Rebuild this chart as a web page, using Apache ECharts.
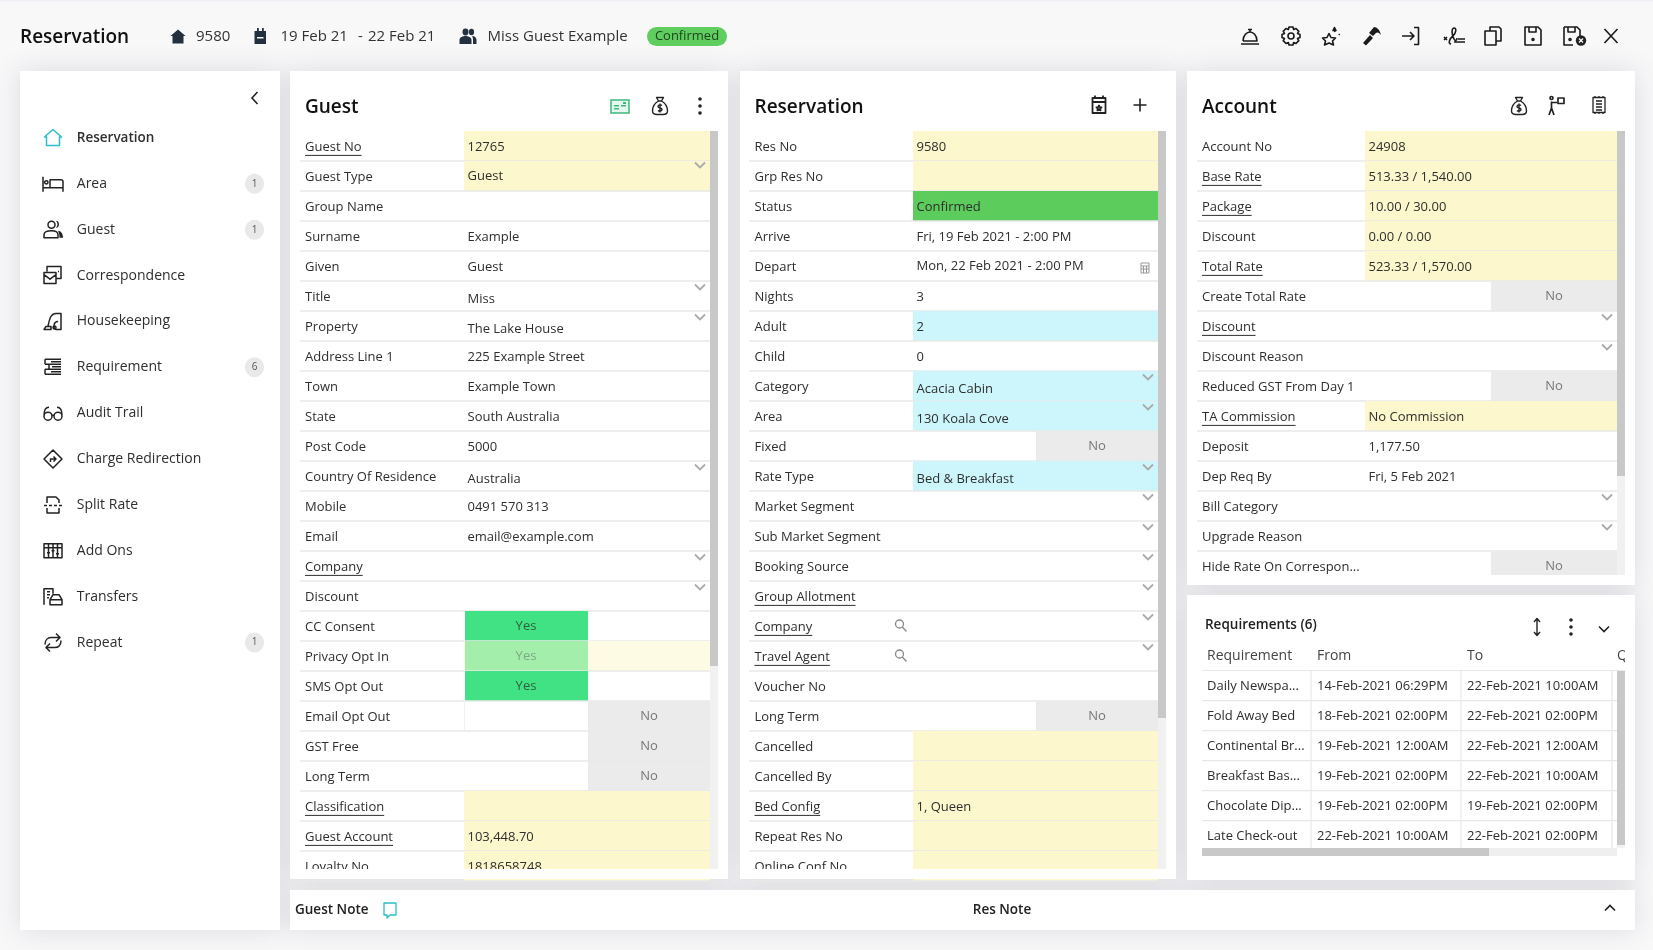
<!DOCTYPE html>
<html lang="en">
<head>
<meta charset="UTF-8">
<title>Reservation</title>
<style>
  html, body, #main { width: 1653px; height: 950px; margin: 0; padding: 0; overflow: hidden; background: #f8f8f9; }
</style>
<script src="https://cdn.jsdelivr.net/npm/echarts@6/dist/echarts.min.js"></script>
</head>
<body>
<div id="main"></div>
<script>
// header
var headerResNo = '9580';
var headerFrom = '19 Feb 21';
var headerTo = '22 Feb 21';
var headerGuest = 'Miss Guest Example';
var headerStatus = 'Confirmed';

// side menu
var menuNames = ['Reservation', 'Area', 'Guest', 'Correspondence', 'Housekeeping', 'Requirement', 'Audit Trail', 'Charge Redirection', 'Split Rate', 'Add Ons', 'Transfers', 'Repeat'];
var menuCounts = [0, 1, 1, 0, 0, 6, 0, 0, 0, 0, 0, 1];
var menuIcons = ['home', 'bed', 'people', 'mail', 'vacuum', 'list', 'glasses', 'diamond', 'split', 'grid', 'transfer', 'repeat'];

// guest panel
var guestLabels = ['Guest No', 'Guest Type', 'Group Name', 'Surname', 'Given', 'Title', 'Property', 'Address Line 1', 'Town', 'State', 'Post Code', 'Country Of Residence', 'Mobile', 'Email', 'Company', 'Discount', 'CC Consent', 'Privacy Opt In', 'SMS Opt Out', 'Email Opt Out', 'GST Free', 'Long Term', 'Classification', 'Guest Account', 'Loyalty No'];
var guestValues = ['12765', 'Guest', '', 'Example', 'Guest', 'Miss', 'The Lake House', '225 Example Street', 'Example Town', 'South Australia', '5000', 'Australia', '0491 570 313', 'email@example.com', '', '', 'Yes', 'Yes', 'Yes', 'No', 'No', 'No', '', '103,448.70', '1818658748'];
var guestLinks = ['Guest No', 'Company', 'Classification', 'Guest Account'];
var guestRequired = ['Guest No', 'Guest Type', 'Classification', 'Guest Account', 'Loyalty No'];
var guestSelects = ['Guest Type', 'Title', 'Property', 'Country Of Residence', 'Company', 'Discount'];

// reservation panel
var resLabels = ['Res No', 'Grp Res No', 'Status', 'Arrive', 'Depart', 'Nights', 'Adult', 'Child', 'Category', 'Area', 'Fixed', 'Rate Type', 'Market Segment', 'Sub Market Segment', 'Booking Source', 'Group Allotment', 'Company', 'Travel Agent', 'Voucher No', 'Long Term', 'Cancelled', 'Cancelled By', 'Bed Config', 'Repeat Res No', 'Online Conf No'];
var resValues = ['9580', '', 'Confirmed', 'Fri, 19 Feb 2021 - 2:00 PM', 'Mon, 22 Feb 2021 - 2:00 PM', '3', '2', '0', 'Acacia Cabin', '130 Koala Cove', 'No', 'Bed & Breakfast', '', '', '', '', '', '', '', 'No', '', '', '1, Queen', '', ''];
var resLinks = ['Group Allotment', 'Company', 'Travel Agent', 'Bed Config'];
var resRequired = ['Res No', 'Grp Res No', 'Cancelled', 'Cancelled By', 'Bed Config', 'Repeat Res No', 'Online Conf No'];
var resEdited = ['Adult', 'Category', 'Area', 'Rate Type'];
var resSelects = ['Category', 'Area', 'Rate Type', 'Market Segment', 'Sub Market Segment', 'Booking Source', 'Group Allotment', 'Company', 'Travel Agent'];

// account panel
var accLabels = ['Account No', 'Base Rate', 'Package', 'Discount', 'Total Rate', 'Create Total Rate', 'Discount ', 'Discount Reason', 'Reduced GST From Day 1', 'TA Commission', 'Deposit', 'Dep Req By', 'Bill Category', 'Upgrade Reason', 'Hide Rate On Correspon...'];
var accValues = ['24908', '513.33 / 1,540.00', '10.00 / 30.00', '0.00 / 0.00', '523.33 / 1,570.00', 'No', '', '', 'No', 'No Commission', '1,177.50', 'Fri, 5 Feb 2021', '', '', 'No'];
var accLinks = ['Base Rate', 'Package', 'Total Rate', 'Discount ', 'TA Commission'];
var accRequired = ['Account No', 'Base Rate', 'Package', 'Discount', 'Total Rate', 'TA Commission'];
var accSelects = ['Discount ', 'Discount Reason', 'Bill Category', 'Upgrade Reason'];

// requirements table
var reqTitle = 'Requirements (6)';
var reqColumns = ['Requirement', 'From', 'To', 'Q'];
var reqNames = ['Daily Newspa...', 'Fold Away Bed', 'Continental Br...', 'Breakfast Bas...', 'Chocolate Dip...', 'Late Check-out'];
var reqFrom = ['14-Feb-2021 06:29PM', '18-Feb-2021 02:00PM', '19-Feb-2021 12:00AM', '19-Feb-2021 02:00PM', '19-Feb-2021 02:00PM', '22-Feb-2021 10:00AM'];
var reqTo = ['22-Feb-2021 10:00AM', '22-Feb-2021 02:00PM', '22-Feb-2021 12:00AM', '22-Feb-2021 10:00AM', '19-Feb-2021 02:00PM', '22-Feb-2021 02:00PM'];

var FONT = '"Open Sans"';
var INK = '#2e2e2e';
var els = [];

// icons are drawn round 0,0 in a box of about 20px
var icons = {
    home: { d: 'M0 -8.5 L8.5 -1 L6.5 -1 L6.5 7.5 L-6.5 7.5 L-6.5 -1 L-8.5 -1 Z' },
    homeSolid: { fill: true, d: 'M0 -7.5 L7.5 -1 L5.5 -1 L5.5 6.5 L-5.5 6.5 L-5.5 -1 L-7.5 -1 Z' },
    peopleSolid: { fill: true, d: 'M0.5 -5 A3 3.4 0 1 1 -5.5 -5 A3 3.4 0 1 1 0.5 -5 Z M6.1 -5 A2.6 3.2 0 1 1 0.9 -5 A2.6 3.2 0 1 1 6.1 -5 Z M-8.5 7 L-8.5 3 C-8.5 0 -5 -1 -2.5 -1 C0 -1 3.5 0 3.5 3 L3.5 7 Z M5 7 L5 2.5 C5 1 4.5 0 4 -1 C7 -1 8.5 1 8.5 3 L8.5 7 Z' },
    bell: { d: 'M-9 8 L9 8 M-7 5 C-7 -1 -3 -4 0 -4 C3 -4 7 -1 7 5 L-7 5 M-2 -6.5 L2 -6.5 M0 -6.5 L0 -4' },
    gear: { d: 'M-2 -9 L2 -9 L2.6 -6.5 L5 -7.5 L7.8 -4.6 L6.5 -2.6 L9 -1.5 L9 1.5 L6.5 2.6 L7.8 4.6 L5 7.5 L2.6 6.5 L2 9 L-2 9 L-2.6 6.5 L-5 7.5 L-7.8 4.6 L-6.5 2.6 L-9 1.5 L-9 -1.5 L-6.5 -2.6 L-7.8 -4.6 L-5 -7.5 L-2.6 -6.5 Z M3 0 A3 3 0 1 1 -3 0 A3 3 0 1 1 3 0 Z' },
    stars: { d: 'M-2 -2.5 L0 1.5 L4.5 2 L1.5 5 L2.5 9 L-2 7 L-6.5 9 L-5.5 5 L-8.5 2 L-4 1.5 Z M3 -7 L4 -4 M3.5 -8.5 L2 -5.5 L5 -5.5 Z M8 -2 L8.5 -1 M8.5 -2 L8 -1' },
    hammer: { fill: true, d: 'M-9 7 L-2 -1 L1 2 L-6 9.5 Z M-3 -3 L2 -9 C5 -9 8 -6 9 -1 C7 -4 5 -4 4 -3 L1 0 Z' },
    login: { d: 'M-9 0 L3 0 M-1 -4 L3 0 L-1 4 M3 -8.5 L7.5 -8.5 L7.5 8.5 L3 8.5' },
    scribble: { d: 'M-11 1 L-8 4 M-8 1 L-11 4 M-4 8 C-7 8 -6 3 -2 0 C1 -3 2 -8 -1 -8 C-4 -8 -3 0 -1 3 C0 5 2 5 2 2 M3 3 L10 3 M-1 6 L10 6' },
    copy: { d: 'M-3 -5 L-3 -9 L6 -9 L8 -7 L8 5 L3 5 M-8 -5 L3 -5 L3 9 L-8 9 Z' },
    save: { d: 'M-8 -9 L5 -9 L8 -6 L8 9 L-8 9 Z M-4 -9 L-4 -4 L3 -4 L3 -9 M1 3.5 A1 1 0 1 1 -1 3.5 A1 1 0 1 1 1 3.5 Z' },
    saveX: { d: 'M-8 -9 L5 -9 L8 -6 L8 0 M1 9 L-8 9 L-8 -9 M-4 -9 L-4 -4 L3 -4 L3 -9 M-1 3.5 A1 1 0 1 1 -3 3.5 A1 1 0 1 1 -1 3.5 Z' },
    close: { d: 'M-6.5 -7 L6.5 7 M6.5 -7 L-6.5 7' },
    bag: { d: 'M-3.5 -8.5 L3.5 -8.5 L1.5 -5 C6 -2.5 7.5 2 7.5 5 C7.5 7.5 5.5 8.5 3 8.5 L-3 8.5 C-5.5 8.5 -7.5 7.5 -7.5 5 C-7.5 2 -6 -2.5 -1.5 -5 Z M-1.5 -5 L1.5 -5 M2 -0.5 C1 -1.5 -2 -1.5 -2 0.5 C-2 2.5 2 1.5 2 3.5 C2 5.5 -1 5.5 -2 4.5 M0 -2.5 L0 6.5' },
    plus: { d: 'M-6.5 0 L6.5 0 M0 -6.5 L0 6.5' },
    calStar: { d: 'M-6.5 -7 L6.5 -7 L6.5 8 L-6.5 8 Z M-4 -9.5 L-4 -6 M4 -9.5 L4 -6 M-6.5 -3 L6.5 -3 M0 0.5 L0.8 2.2 L2.6 2.4 L1.2 3.6 L1.6 5.4 L0 4.4 L-1.6 5.4 L-1.2 3.6 L-2.6 2.4 L-0.8 2.2 Z' },
    flagman: { d: 'M-4 -8 A1.5 1.5 0 1 1 -7 -8 A1.5 1.5 0 1 1 -4 -8 Z M-5.5 -4.5 L-5.5 2 M-5.5 2 L-8 9 M-5.5 2 L-3 9 M-5.5 -3.5 L0 -3.5 M1 -8 L7 -8 L7 -2.5 L1 -2.5 Z' },
    receipt: { d: 'M-6 -7.5 L6 -7.5 L6 7.5 L-6 7.5 Z M-3 -4 L3 -4 M-3 -1 L3 -1 M-3 2 L3 2 M-3 5 L3 5 M-4 -9 L-4 -8 M0 -9 L0 -8 M4 -9 L4 -8 M-4 8 L-4 9 M0 8 L0 9 M4 8 L4 9' },
    bed: { d: 'M-10 -7 L-10 8 M-10 4 L10 4 L10 8 M10 4 L10 -2 C10 -4 8 -4 8 -4 L-3 -4 L-3 4 M-5 -1.5 A1.7 1.7 0 1 1 -8.4 -1.5 A1.7 1.7 0 1 1 -5 -1.5 Z' },
    people: { d: 'M2 -5 A3.5 3.5 0 1 1 -5 -5 A3.5 3.5 0 1 1 2 -5 Z M-9 8 L-9 5 C-9 2 -5 1 -1.5 1 C2 1 5 2 5 5 L5 8 Z' },
    peopleFill: { fill: true, d: 'M3 -9 C7 -9 7 -2 3 -2 C5 -4 5 -7 3 -9 Z M5 1 C8 1 10 4 10 8 L6.5 8 C6.5 5 6 3 5 1 Z' },
    mail: { d: 'M-6 -4 L-6 -9 L8 -9 L8 3 L3 3 M-9 -3 L3 -3 L3 8 L-9 8 Z M-9 -1 L-3 3.5 L3 -1 M5 -4 L6 -4' },
    vacuum: { d: 'M-9 8 L-2 8 L-2 5 L-7 5 Z M-5 5 C-4 0 -3 -8 3 -8 L8 -8 L8 8 L3 8 C0 8 0 0 5 0 M3 6 A1.5 1.5 0 1 1 0 6 A1.5 1.5 0 1 1 3 6 Z' },
    list: { d: 'M-8 -8 L8 -8 M-8 -3 L8 -3 M-8 2 L8 2 M-8 7 L8 7 M-8 -8 L-8 -3 M-4 -3 L-4 2 M-8 2 L-8 7 M-2 -5.5 L8 -5.5 M-1 -0.5 L8 -0.5 M-2 4.5 L8 4.5' },
    glasses: { d: 'M-1 3 A4 4 0 1 1 -9 3 A4 4 0 1 1 -1 3 Z M9 3 A4 4 0 1 1 1 3 A4 4 0 1 1 9 3 Z M-1 2 L1 2 M-9 2 C-9 -3 -7 -6 -4 -6 M9 2 C9 -3 7 -6 4 -6' },
    diamond: { d: 'M0 -9 L9 0 L0 9 L-9 0 Z M-2.5 3 L-2.5 0 L2.5 0 M0.5 -2.5 L3 0 L0.5 2.5' },
    split: { d: 'M-6 -2 L-6 -8 L3 -8 L6 -5 L6 -2 M-6 3 L-6 8 L6 8 L6 3 M-9 0.5 L-6 0.5 M-4 0.5 L-1 0.5 M1 0.5 L4 0.5 M6 0.5 L9 0.5' },
    grid: { d: 'M-9 -7 L9 -7 L9 7 L-9 7 Z M-4.5 -7 L-4.5 7 M0 -7 L0 7 M4.5 -7 L4.5 7 M-9 -3 L9 -3 M-6 2 L-3 2 M-1.5 0 L1.5 0 M3 3 L6 3' },
    transfer: { d: 'M-9 8 L-9 -8 L0 -8 L0 -3 M-6 -5 L-3 -5 M-6 -2 L-3 -2 M-6 1 L-4 1 M-3 8 L-3 3 L0 -2 L6 -2 L9 3 L9 8 Z M-3 3 L9 3' },
    repeat: { d: 'M-8 2 C-8 -3 -5 -5 -2 -5 L6 -5 M3 -9 L7 -5 L3 -1 M8 -2 C8 3 5 5 2 5 L-6 5 M-3 1 L-7 5 L-3 9' },
    cal: { d: 'M-4 -5 L4 -5 L4 5 L-4 5 Z M-4 -2 L4 -2 M-4 1 L4 1 M-1.5 -2 L-1.5 5 M1.5 -2 L1.5 5' },
    search: { d: 'M2.5 -2 A4 4 0 1 1 -5.5 -2 A4 4 0 1 1 2.5 -2 Z M1.3 1 L5.5 5.5' },
    note: { d: 'M-6 -7 L6 -7 L6 5 L0 5 L-3 8 L-3 5 L-6 5 Z' },
    updown: { d: 'M0 -8 L0 8 M-3 -5 L0 -8.5 L3 -5 M-3 5 L0 8.5 L3 5' }
};

// the graphic component only knows named shapes, so register each icon
Object.keys(icons).forEach(function (name) {
    echarts.graphic.registerShape('icon_' + name, echarts.graphic.extendPath(icons[name].d, {}));
});

function rect(x, y, w, h, fill, extra) {
    var style = { fill: fill };
    for (var k in extra) style[k] = extra[k];
    els.push({ type: 'rect', shape: { x: x, y: y, width: w, height: h, r: (extra && extra.r) || 0 }, style: style, silent: true });
}

function line(x1, y1, x2, y2, color, width) {
    els.push({ type: 'line', shape: { x1: x1, y1: y1, x2: x2, y2: y2 }, style: { stroke: color, lineWidth: width || 1 }, silent: true });
}

function text(str, x, y, size, color, weight, align) {
    els.push({
        type: 'text', x: x, y: y, silent: true,
        style: { text: str, fill: color, align: align || 'left', verticalAlign: 'middle', font: (weight || 400) + ' ' + size + 'px ' + FONT }
    });
}

var measure = document.createElement('canvas').getContext('2d');
function linkText(str, x, y, size, color) {
    text(str, x, y, size, color);
    measure.font = '400 ' + size + 'px ' + FONT;
    line(x, y + 8, x + measure.measureText(str).width, y + 8, color, 1);
}

function icon(name, x, y, color, width) {
    els.push({
        type: 'icon_' + name, x: x, y: y, silent: true,
        style: icons[name].fill ? { fill: color } : { fill: 'none', stroke: color, lineWidth: width || 1.6, lineJoin: 'round' }
    });
}

function chevron(x, y, color, width, up) {
    var d = up ? -1 : 1;
    els.push({
        type: 'polyline', silent: true,
        shape: { points: [[x - 5, y - 2.5 * d], [x, y + 2.5 * d], [x + 5, y - 2.5 * d]] },
        style: { fill: 'none', stroke: color, lineWidth: width }
    });
}

function dots(x, y) {
    [-7, 0, 7].forEach(function (dy) {
        els.push({ type: 'circle', silent: true, shape: { cx: x, cy: y + dy, r: 1.8 }, style: { fill: '#222' } });
    });
}

function has(list, item) { return list.indexOf(item) >= 0; }

// cards: shadows first so that they only darken the gaps
var cards = [
    [20, 71, 260, 859], [290, 71, 438, 808], [740, 71, 436, 808],
    [1187, 71, 448, 514], [1187, 595, 448, 285], [290, 890, 1345, 40]
];
rect(0, 0, 1653, 1.5, '#eef0f5');
cards.forEach(function (c) {
    rect(c[0], c[1], c[2], c[3], '#fff', { shadowBlur: 26, shadowColor: 'rgba(60,55,80,0.15)' });
});
cards.forEach(function (c) { rect(c[0], c[1], c[2], c[3], '#fff'); });

// top bar
text('Reservation', 20, 37.5, 19, '#111', 600);
icon('homeSolid', 178, 37, '#22303f');
text(headerResNo, 196, 37, 15, '#333');
rect(254.5, 31, 11.5, 13, '#22303f');
rect(257, 28, 1.8, 4, '#22303f'); rect(262, 28, 1.8, 4, '#22303f');
rect(257, 37, 6.5, 1.5, '#f8f8f9');
text(headerFrom, 280.5, 37, 15, '#333');
text('-', 358, 37, 15, '#333');
text(headerTo, 368, 37, 15, '#333');
icon('peopleSolid', 468, 37, '#22303f');
text(headerGuest, 487.5, 37, 15, '#333');
rect(647, 27, 80, 19, '#5fce5f', { r: 9.5 });
text(headerStatus, 687, 36.5, 13, '#1e4420', 400, 'center');

var topIcons = ['bell', 'gear', 'stars', 'hammer', 'login', 'scribble', 'copy', 'save', 'saveX', 'close'];
var topIconX = [1250, 1291, 1331, 1372, 1411, 1455, 1493, 1533, 1572, 1611];
topIcons.forEach(function (n, i) { icon(n, topIconX[i], 36, '#1a1a1a'); });
els.push({ type: 'circle', silent: true, shape: { cx: 1581, cy: 40.5, r: 5.2 }, style: { fill: '#222' } });
line(1579, 38.5, 1583, 42.5, '#fff', 1.2);
line(1583, 38.5, 1579, 42.5, '#fff', 1.2);

// side menu
els.push({ type: 'polyline', silent: true, shape: { points: [[257.5, 92], [252, 98], [257.5, 104]] }, style: { fill: 'none', stroke: '#222', lineWidth: 1.6 } });
menuNames.forEach(function (name, i) {
    var y = 138 + i * 45.87;
    icon(menuIcons[i], 53, y, i === 0 ? '#2bbdc9' : '#222', 1.5);
    if (menuIcons[i] === 'people') icon('peopleFill', 53, y, '#222');
    text(name, 76.8, y, i === 0 ? 13.5 : 14, '#2e2e2e', i === 0 ? 600 : 400);
    if (menuCounts[i]) {
        els.push({ type: 'ellipse', silent: true, shape: { cx: 254.5, cy: y, rx: 9.5, ry: 10 }, style: { fill: '#e9e9e9' } });
        text(String(menuCounts[i]), 254.5, y, 10, '#555', 400, 'center');
    }
});

// one form panel
function formPanel(p) {
    text(p.title, p.labelX, 107.5, 19, '#111', 600);
    p.labels.forEach(function (label, i) {
        var top = 131 + i * 30, value = p.values[i], noX = p.noX;
        if (has(p.required, label)) rect(p.valueX, top, p.right - p.valueX, 30, '#fdf7cd');
        if (p.edited && has(p.edited, label)) rect(p.valueX, top, p.right - p.valueX, 30, '#ccf6fb');
        if (label === 'Status') rect(p.valueX, top, p.right - p.valueX, 30, '#5ccc5c');
        if (label === 'Privacy Opt In') rect(p.valueX, top, p.right - p.valueX, 30, '#fefbe4');
        if (value === 'Yes') rect(p.valueX + 1, top, noX - p.valueX - 1, 30, label === 'Privacy Opt In' ? '#a3eeaa' : '#41e283');
        if (value === 'No') rect(noX, top, p.right - noX, 30, '#ebebeb');
        if (label === 'Email Opt Out') rect(p.valueX, top, 1, 30, '#f2f2f2');
        line(p.left, top + 30, p.right, top + 30, '#e8e8e8', 1.5);

        var textY = top + 16.4;
        if (has(p.links, label)) linkText(label.trim(), p.labelX, textY, 13, INK);
        else text(label.trim(), p.labelX, textY, 13, INK);

        var isSelect = has(p.selects, label);
        if (isSelect && value !== '') textY += label === 'Guest Type' ? -1 : 2;
        if (label === 'Depart') textY -= 1;
        if (value === 'Yes') text(value, (p.valueX + noX) / 2, top + 15.5, 13, label === 'Privacy Opt In' ? '#7fa884' : '#2f5f3f', 400, 'center');
        else if (value === 'No') text(value, (noX + p.right) / 2, top + 15.5, 13, '#777', 400, 'center');
        else if (value !== '') text(value, p.valueX + 3.5, textY, 13, INK);
        if (isSelect) chevron(p.right - 10, top + (label === 'Guest Type' ? 4 : 6), '#aaa', 1.8);
    });
    // clip the last rows and add the scroll bar
    var clipY = p.clipY;
    rect(p.left - 2, clipY, p.right - p.left + 20, p.bottom - clipY, '#fff');
    rect(p.right, 131, 8, clipY - 131, '#f1f1f1');
    rect(p.right, 131, 8, p.thumb - 131, '#c8c8c8');
}

formPanel({
    title: 'Guest', labels: guestLabels, values: guestValues, links: guestLinks,
    required: guestRequired, selects: guestSelects,
    labelX: 305, left: 300, valueX: 464, noX: 588, right: 710, clipY: 869, bottom: 879, thumb: 666
});
formPanel({
    title: 'Reservation', labels: resLabels, values: resValues, links: resLinks,
    required: resRequired, edited: resEdited, selects: resSelects,
    labelX: 754.5, left: 749, valueX: 913, noX: 1036, right: 1158, clipY: 869, bottom: 879, thumb: 718
});
formPanel({
    title: 'Account', labels: accLabels, values: accValues, links: accLinks,
    required: accRequired, selects: accSelects,
    labelX: 1202, left: 1197, valueX: 1365, noX: 1491, right: 1617, clipY: 575, bottom: 585, thumb: 476
});

// panel header icons
els.push({ type: 'rect', silent: true, shape: { x: 611, y: 100, width: 18, height: 13 }, style: { fill: '#e6f7ee', stroke: '#3dba7a', lineWidth: 1.5 } });
rect(614, 105, 5, 1.5, '#3dba7a'); rect(614, 108, 5, 1.5, '#3dba7a'); rect(621, 105, 5, 1.5, '#3dba7a'); rect(623, 102, 3, 2, '#3dba7a');
icon('bag', 660, 106, '#222', 1.4);
dots(700, 106);
icon('calStar', 1099, 105, '#222', 1.8);
icon('plus', 1140, 105, '#222', 1.6);
icon('bag', 1519, 106, '#222', 1.4);
icon('flagman', 1557, 106, '#222', 1.7);
icon('receipt', 1599, 105, '#222', 1.3);
icon('cal', 1145, 268, '#999', 1);
icon('search', 901, 626, '#888', 1.3);
icon('search', 901, 656, '#888', 1.3);

// requirements table
text(reqTitle, 1205, 625, 13.5, '#222', 600);
icon('updown', 1537, 627, '#222', 1.4);
dots(1571, 627);
chevron(1604, 629, '#222', 1.6);
var reqColX = [1207, 1317, 1467, 1617];
reqColumns.forEach(function (c, i) { text(c, reqColX[i], 656, 14, '#444', 500); });
rect(1625, 645, 9, 20, '#fff');
line(1202, 670.5, 1625, 670.5, '#e8e8e8', 1.2);
reqNames.forEach(function (name, i) {
    var y = 686 + i * 30;
    text(name, 1207, y, 13, INK);
    text(reqFrom[i], 1317, y, 13, INK);
    text(reqTo[i], 1467, y, 13, INK);
    if (i < reqNames.length - 1) line(1202, y + 14.7, 1617, y + 14.7, '#e8e8e8', 1.2);
});
rect(1202, 848, 415, 20, '#fff');
[1311, 1461, 1612].forEach(function (x) { line(x, 671, x, 848, '#e8e8e8', 1.2); });
rect(1617, 671, 8, 177, '#f1f1f1');
rect(1617, 671, 8, 174, '#c8c8c8');
rect(1202, 848, 415, 8, '#efefef');
rect(1202, 848, 287, 8, '#c8c8c8');

// notes bar
text('Guest Note', 295, 910, 13.5, '#222', 600);
icon('note', 390, 910, '#2bbdc9', 1.3);
text('Res Note', 1002, 910, 13.5, '#222', 600, 'center');
chevron(1610, 908, '#222', 1.7, true);

var chart = echarts.init(document.getElementById('main'));
chart.setOption({
    animation: false,
    backgroundColor: '#f8f8f9',
    graphic: { elements: els }
});
</script>
</body>
</html>
